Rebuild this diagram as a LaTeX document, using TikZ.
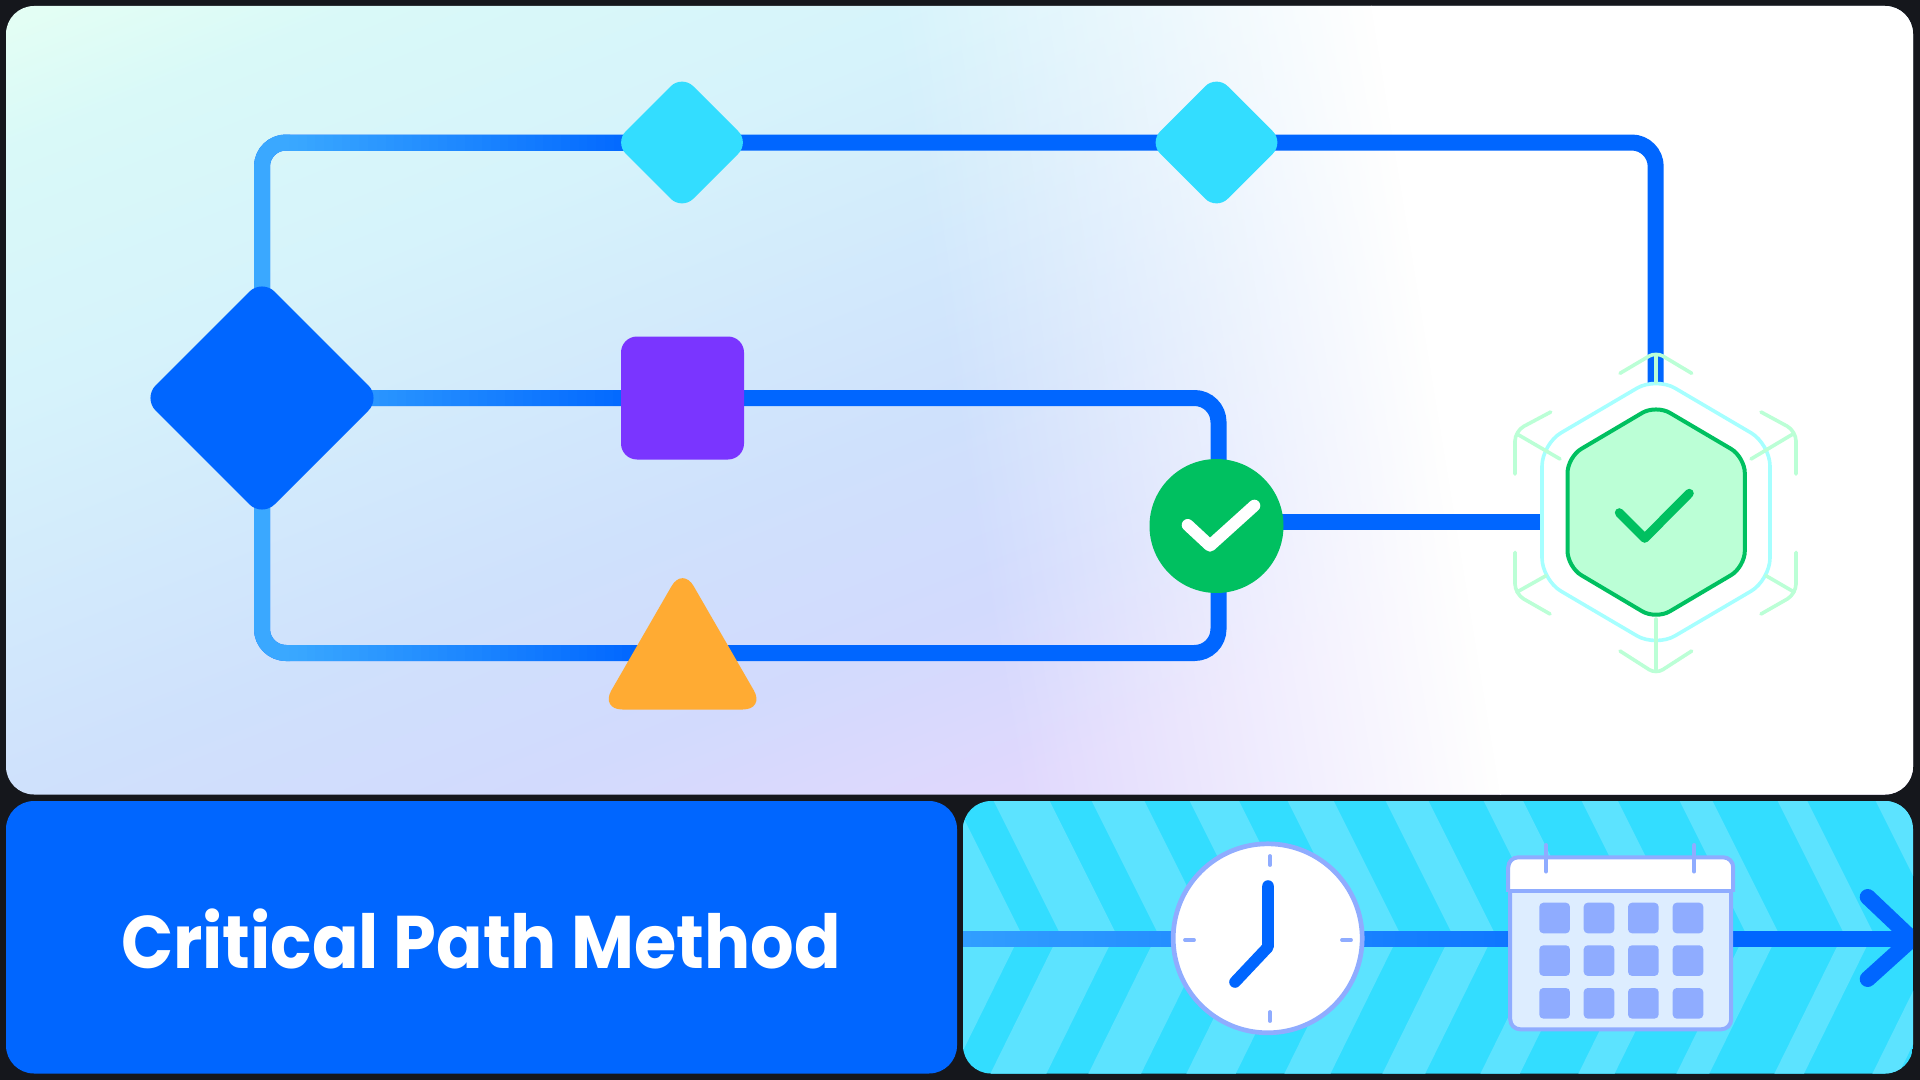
\documentclass[tikz,border=0pt]{standalone}
\usepackage{fontspec}
\newfontfamily\titlefont[FakeStretch=0.92]{Poppins}
\usetikzlibrary{shapes.geometric,fadings}
\pgfdeclarelayer{bglayer}
\pgfdeclarelayer{connlayer}
\pgfsetlayers{bglayer,connlayer,main}
\definecolor{page}{HTML}{15171C}
\definecolor{blueA}{HTML}{0066FF}
\definecolor{blueL}{HTML}{3AA8FF}
\definecolor{cyanA}{HTML}{33DDFF}
\definecolor{cyanL}{HTML}{5CE3FF}
\definecolor{violetA}{HTML}{7A35FF}
\definecolor{orangeA}{HTML}{FFAB33}
\definecolor{greenA}{HTML}{00C060}
\definecolor{greenL}{HTML}{BBFFD6}
\definecolor{aquaL}{HTML}{A6FFFF}
\definecolor{periA}{HTML}{8FACFF}
\definecolor{calL}{HTML}{DDEDFF}
\definecolor{pgA}{HTML}{E2D8FD}
\definecolor{pgB}{HTML}{E0D8FD}
\definecolor{pgC}{HTML}{D2DAFD}
\definecolor{pgD}{HTML}{CFE1FC}
\definecolor{pgE}{HTML}{D6F3FB}
\definecolor{pgF}{HTML}{D9F9F8}
\definecolor{pgG}{HTML}{E5FFF3}
\pgfdeclareverticalshading{panelgrad}{100bp}{
 color(0bp)=(pgA);
 color(25bp)=(pgA);
 color(40.5bp)=(pgB);
 color(46bp)=(pgC);
 color(52.1bp)=(pgD);
 color(63.4bp)=(pgE);
 color(70.6bp)=(pgF);
 color(75bp)=(pgG);
 color(100bp)=(pgG)}
\tikzfading[name=whitefade,left color=transparent!100,right color=transparent!0]
\tikzset{
 conn/.style={draw=blueA,line width=.8cm},
 flowcorner/.style={rounded corners=1.2cm},
 shapefill/.style={fill=#1,draw=none,inner sep=0pt,outer sep=0pt},
 bracket/.style={draw=greenL,line width=.18cm,line cap=round,line join=round},
 tickm/.style={draw=periA,line width=.19cm,line cap=round},
 cellbox/.style={fill=periA,rounded corners=.2cm},
}
% gradient stroke along a horizontal stretch, built from short solid pieces:
% #1 y, #2 x start, #3 x end, #4 pieces, #5 start share of blueL
\newcommand{\gradrun}[5]{%
 \foreach \i in {1,...,#4}{
  \pgfmathsetmacro{\share}{#5*(1-(\i-0.5)/#4)}
  \pgfmathsetmacro{\xa}{#2+(#3-#2)/#4*(\i-1)}
  \pgfmathsetmacro{\xb}{#2+(#3-#2)/#4*\i+1}
  \draw[conn,draw=blueL!\share!blueA] (\xa,#1) -- (\xb,#1);
 }}
\begin{document}
\begin{tikzpicture}[x=0.05cm,y=-0.05cm]
\useasboundingbox (0,0) rectangle (1920,1080);

% named points
\node[diamond,shapefill=blueA,minimum size=11.9cm,aspect=1,rounded corners=.9cm] (dec) at (262,398) {};
\node[diamond,shapefill=cyanA,minimum size=6.75cm,aspect=1,rounded corners=.8cm] (da) at (682,142.5) {};
\node[diamond,shapefill=cyanA,minimum size=6.75cm,aspect=1,rounded corners=.8cm] (db) at (1216.5,142.5) {};
\node[rectangle,shapefill=violetA,minimum size=6.15cm,rounded corners=.8cm] (task) at (682.5,398) {};
\node[regular polygon,regular polygon sides=3,shapefill=orangeA,minimum size=9.5cm,rounded corners=1.1cm] (tri) at (682.6,662) {};
\node[circle,shapefill=greenA,minimum size=6.7cm] (ok) at (1216.5,526) {};
\coordinate (okup) at (1218.5,526);
\coordinate (okout) at (1216.5,521.5);
\coordinate (hexc) at (1655.7,512);
\coordinate (hexw) at (1600,521.5);
\coordinate (gtop) at (290,142.5);
\coordinate (gbot) at (290,653);
\coordinate (triy) at (682.6,653);
\coordinate (barL) at (960,939);
\coordinate (tip) at (1912,939);

\begin{pgfonlayer}{bglayer}
 \fill[page] (0,0) rectangle (1920,1080);
 % main panel
 \begin{scope}
  \clip[rounded corners=1.4cm] (6,6) rectangle (1913,794.5);
  \begin{scope}[transform canvas={rotate around={21.8:(6,6)}}]
   \shade[shading=panelgrad] (-600,0) rectangle (2600,1600);
  \end{scope}
  \begin{scope}[transform canvas={rotate around={9.3:(950,400)}}]
   \fill[white,path fading=whitefade] (950,-800) rectangle (1430,1600);
   \fill[white] (1429,-800) rectangle (3200,1600);
  \end{scope}
 \end{scope}
 % title panel
 \fill[blueA,rounded corners=1.4cm] (6,801) rectangle (957,1073.5);
 % timeline panel
 \begin{scope}
  \clip[rounded corners=1.4cm] (963,801) rectangle (1913,1073.5);
  \fill[cyanA] (963,801) rectangle (1913,1074);
  \foreach \k in {-1,0,...,9}{
   \pgfmathsetmacro{\xl}{993.7+98*\k}
   \pgfmathsetmacro{\wd}{56-3.3*\k}
   \fill[cyanL] (\xl,801) -- (\xl+\wd,801) -- (\xl+\wd+69,939) -- (\xl+69,939) -- cycle;
   \fill[cyanL] (\xl+63,939) -- (\xl+\wd+63,939) -- (\xl+\wd-3.5,1074) -- (\xl-3.5,1074) -- cycle;
  }
 \end{scope}
\end{pgfonlayer}

\begin{pgfonlayer}{connlayer}
 % top route
 \draw[conn,flowcorner] (dec.center) |- (da.center) -- (db.center) -| (hexc);
 % middle route
 \draw[conn,flowcorner] (dec.center) -- (task.center) -| (okup);
 % bottom route
 \draw[conn,flowcorner] (dec.center) |- (triy) -| (okup);
 % ok to hexagon
 \draw[conn] (okout) -- (hexw);
 % lighter start of the routes
 \draw[conn,draw=blueL,flowcorner] (dec.center) |- (gtop);
 \draw[conn,draw=blueL,flowcorner] (dec.center) |- (gbot);
 \gradrun{142.5}{289}{640}{40}{100}
 \gradrun{653}{289}{640}{40}{100}
 \gradrun{398}{370}{640}{30}{72}
 % timeline
 \begin{scope}
  \clip[rounded corners=1.4cm] (963,801) rectangle (1913,1073.5);
  \draw[conn] (barL) -- (tip);
  \gradrun{939}{960}{1740}{70}{85}
  \draw[conn,line cap=round,line join=round] (1867.7,897) -- (tip) -- (1867.7,979);
 \end{scope}
\end{pgfonlayer}

% check in the green circle
\draw[white,line width=.6cm,line cap=round,line join=round] (1187.7,525) -- (1210,545.7) -- (1254.3,505.7);

% hexagon group
\draw[draw=aquaL,fill=white,line width=.18cm,rounded corners=1.1cm] (1656,377) -- (1770,444) -- (1770,580) -- (1656,647) -- (1542,580) -- (1542,444) -- cycle;
\begin{scope}[bracket]
 \draw[rounded corners=.4cm] (1620,373.3) -- (1656,352) -- (1691.7,373.3);
 \draw (1656,355) -- (1656,382);
 \draw[rounded corners=.5cm] (1550.7,412) -- (1515,431) -- (1515,474);
 \draw (1517,434) -- (1560,459);
 \draw[rounded corners=.5cm] (1761,412) -- (1796,431) -- (1796,474);
 \draw (1793,434) -- (1751,459);
 \draw[rounded corners=.5cm] (1515,552.3) -- (1515,594) -- (1550,614);
 \draw (1517,592) -- (1546,575.7);
 \draw[rounded corners=.5cm] (1796,552.3) -- (1796,594) -- (1761,614);
 \draw (1794,592) -- (1766,575.7);
 \draw[rounded corners=.4cm] (1620,651) -- (1656,674) -- (1691.7,651);
 \draw (1656,619) -- (1656,669);
\end{scope}
\draw[draw=greenA,fill=greenL,line width=.2cm,rounded corners=.8cm] (1656,404.7) -- (1744.8,457) -- (1744.8,567) -- (1656,619.5) -- (1567.5,567) -- (1567.5,457) -- cycle;
\draw[greenA,line width=.45cm,line cap=round,line join=round] (1619.3,512.7) -- (1644.7,538.3) -- (1689.3,493.3);

% title
\node[anchor=base west,inner sep=0pt,text=white,font=\titlefont\fontsize{106}{120}\selectfont\bfseries] (title) at (121,968) {Critical Path Method};

% clock
\node[circle,draw=periA,fill=white,line width=.235cm,minimum size=9.45cm,inner sep=0pt] (clock) at (1267.7,938.3) {};
\draw[tickm] (1270,856) -- (1270,865);
\draw[tickm] (1270,1012) -- (1270,1021);
\draw[tickm] (1185,940) -- (1194,940);
\draw[tickm] (1342,940) -- (1351,940);
\draw[blueA,line width=.58cm,line cap=round,line join=round] (1268,886) -- (1268,947) -- (1235,982);

% calendar
\node[rectangle,draw=periA,fill=calL,line width=.2cm,minimum width=11.05cm,minimum height=8.5cm,rounded corners=.5cm,inner sep=0pt] (cal) at (1620.7,944.3) {};
\begin{scope}
 \clip (1500,850) rectangle (1740,891);
 \draw[draw=periA,fill=white,line width=.2cm,rounded corners=.5cm] (cal.south west) rectangle (cal.north east);
\end{scope}
\draw[draw=periA,line width=.2cm] (cal.west |- 0,891) -- (cal.east |- 0,891);
\draw[draw=periA,line width=.2cm,line cap=round] (1546,845) -- (1546,871.5);
\draw[draw=periA,line width=.2cm,line cap=round] (1694.3,845) -- (1694.3,871.5);
\foreach \cx in {1539.3,1583.7,1628,1672.7}
 \foreach \cy in {902.7,945.3,988}
  \fill[cellbox] (\cx,\cy) rectangle ++(30.6,30.6);
\end{tikzpicture}
\end{document}
